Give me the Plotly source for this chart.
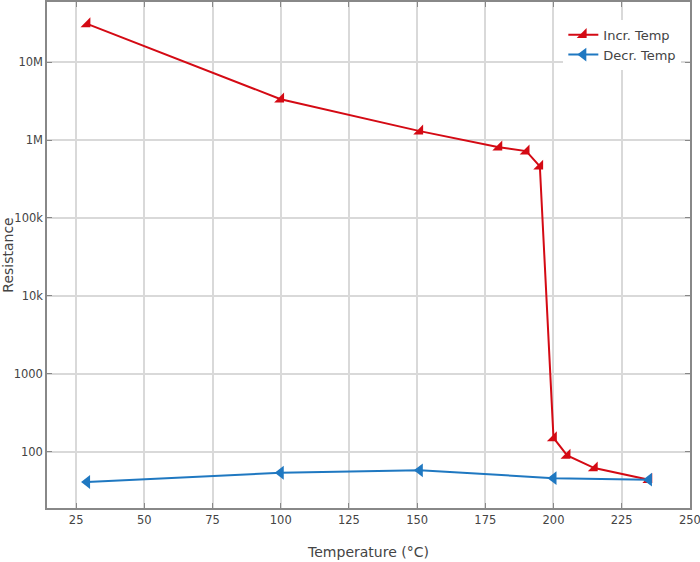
import plotly.graph_objects as go

incr_temp = [29, 100, 151, 180, 190, 195, 200, 205, 215, 235]
incr_res = [30.8e6, 3.34e6, 1.3e6, 0.81e6, 0.72e6, 0.46e6, 151, 90, 62, 44]
decr_temp = [29, 100, 151, 200, 235]
decr_res = [41, 54, 58, 46, 44]

fig = go.Figure()
fig.add_trace(go.Scatter(
    x=incr_temp, y=incr_res, mode="lines+markers", name="Incr. Temp",
    line=dict(color="#d40a14", width=2),
    marker=dict(symbol="triangle-se", size=11, color="#d40a14"),
))
fig.add_trace(go.Scatter(
    x=decr_temp, y=decr_res, mode="lines+markers", name="Decr. Temp",
    line=dict(color="#1f78c1", width=2),
    marker=dict(symbol="triangle-left", size=12, color="#1f78c1"),
))

axis_common = dict(
    showline=True, linecolor="#888888", linewidth=1.5, mirror="ticks",
    showgrid=True, gridcolor="#d9d9d9", gridwidth=1.5,
    ticks="inside", ticklen=5, tickcolor="#888888",
    tickfont=dict(size=11.5, color="#444444"), zeroline=False,
    automargin=False, ticklabeloverflow="allow",
)
fig.update_xaxes(range=[14.3, 250.05], dtick=25, tick0=0,
                 title=dict(text="Temperature (°C)", font=dict(size=14, color="#444444"), standoff=22),
                 **axis_common)
fig.update_yaxes(type="log", range=[1.28, 7.77], dtick=1,
                 title=dict(text="Resistance", font=dict(size=14, color="#444444"), standoff=6),
                 **axis_common)

fig.update_layout(
    width=700, height=562,
    margin=dict(l=47, r=10, t=2, b=54),
    paper_bgcolor="white", plot_bgcolor="white",
    font=dict(family="DejaVu Sans, Verdana, sans-serif", color="#444444"),
    legend=dict(x=0.803, y=0.965, xanchor="left", yanchor="top",
                bgcolor="white", font=dict(size=13, color="#444444")),
)

fig.write_html("out.html", config={"displayModeBar": False},
               post_script="document.body.style.margin='0';document.body.style.padding='0';")
